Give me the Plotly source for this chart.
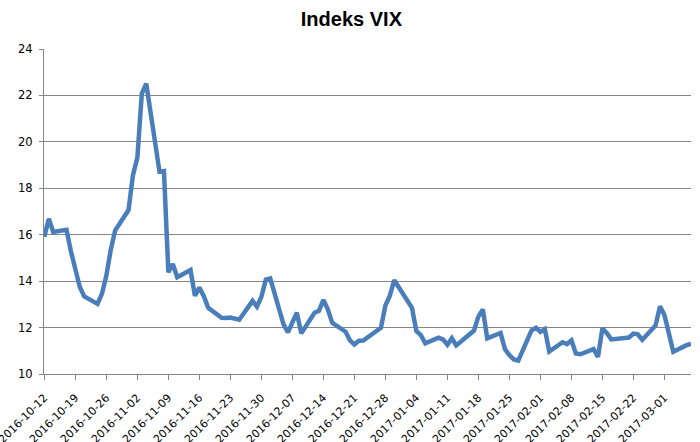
import plotly.graph_objects as go

dates = (
    ["2016-10-%02d" % d for d in [12, 13, 14, 17, 18, 19, 20, 21, 24, 25, 26, 27, 28, 31]]
    + ["2016-11-%02d" % d for d in [1, 2, 3, 4, 7, 8, 9, 10, 11, 14, 15, 16, 17, 18, 21, 22, 23, 25, 28, 29, 30]]
    + ["2016-12-%02d" % d for d in [1, 2, 5, 6, 7, 8, 9, 12, 13, 14, 15, 16, 19, 20, 21, 22, 23, 27, 28, 29, 30]]
    + ["2017-01-%02d" % d for d in [3, 4, 5, 6, 9, 10, 11, 12, 13, 17, 18, 19, 20, 23, 24, 25, 26, 27, 30, 31]]
    + ["2017-02-%02d" % d for d in [1, 2, 3, 6, 7, 8, 9, 10, 13, 14, 15, 16, 17, 21, 22, 23, 24, 27, 28]]
    + ["2017-03-%02d" % d for d in [1, 2, 3, 6, 7]]
)

vix_oct = [15.91, 16.69, 16.12, 16.21, 15.28, 14.41, 13.75, 13.34, 13.02, 13.46, 14.24, 15.36, 16.19, 17.06]
vix_nov = [18.56, 19.32, 22.08, 22.51, 18.71, 18.74, 14.38, 14.74, 14.17, 14.48, 13.37, 13.72, 13.35, 12.85,
           12.42, 12.41, 12.43, 12.34, 13.15, 12.90, 13.33]
vix_dec = [14.07, 14.12, 12.14, 11.79, 12.22, 12.64, 11.75, 12.64, 12.72, 13.19, 12.79, 12.20, 11.82, 11.45,
           11.27, 11.43, 11.44, 11.99, 12.95, 13.37, 14.04]
vix_jan = [12.85, 11.85, 11.67, 11.32, 11.56, 11.49, 11.26, 11.54, 11.23, 11.87, 12.48, 12.78, 11.54, 11.77,
           11.07, 10.81, 10.63, 10.58, 11.88, 11.99]
vix_feb = [11.81, 11.93, 10.97, 11.37, 11.29, 11.45, 10.88, 10.85, 11.07, 10.74, 11.97, 11.76, 11.49, 11.57,
           11.74, 11.71, 11.47, 12.09, 12.92]
vix_mar = [12.54, 11.81, 10.96, 11.24, 11.30]

values = vix_oct + vix_nov + vix_dec + vix_jan + vix_feb + vix_mar

title_text = "Indeks VIX"
y_ticks = [10, 12, 14, 16, 18, 20, 22, 24]
x_ticks = ["2016-10-12", "2016-10-19", "2016-10-26", "2016-11-02", "2016-11-09", "2016-11-16",
           "2016-11-23", "2016-11-30", "2016-12-07", "2016-12-14", "2016-12-21", "2016-12-28",
           "2017-01-04", "2017-01-11", "2017-01-18", "2017-01-25", "2017-02-01", "2017-02-08",
           "2017-02-15", "2017-02-22", "2017-03-01"]

fig = go.Figure()
fig.add_trace(go.Scatter(
    x=dates, y=values, mode="lines",
    line=dict(color="rgb(74,126,187)", width=4.5),
    showlegend=False, hoverinfo="x+y",
))

axis_grey = "#868686"
fig.update_layout(
    width=700, height=442,
    margin=dict(l=44, r=9, t=49, b=68),
    paper_bgcolor="white", plot_bgcolor="white",
    font=dict(family="DejaVu Sans", size=11, color="black"),
    title=dict(text="<b>" + title_text + "</b>", x=0.502, xanchor="center",
               xref="container", yref="container", y=1 - 19 / 442, yanchor="middle",
               font=dict(family="Liberation Sans", size=20, color="black")),
    xaxis=dict(
        type="date", range=["2016-10-11 22:00", "2017-03-07"],
        tickvals=x_ticks, ticktext=x_ticks,
        tickangle=-45, ticks="outside", ticklen=5, tickcolor=axis_grey, tickwidth=1,
        showline=True, linecolor=axis_grey, linewidth=1,
        showgrid=False, zeroline=False, automargin=False, ticklabelstandoff=7,
        ticklabeloverflow="allow",
        tickfont=dict(family="DejaVu Sans", size=11, color="black"),
    ),
    yaxis=dict(
        range=[10, 24], tickvals=y_ticks, ticktext=[str(v) for v in y_ticks],
        ticks="outside", ticklen=4, tickcolor=axis_grey, tickwidth=1,
        showline=True, linecolor=axis_grey, linewidth=1, automargin=False,
        showgrid=True, gridcolor=axis_grey, gridwidth=1, zeroline=False,
        ticklabelstandoff=4, ticklabeloverflow="allow",
        tickfont=dict(family="DejaVu Sans", size=11.5, color="black"),
    ),
)

fig.write_html("out.html")
